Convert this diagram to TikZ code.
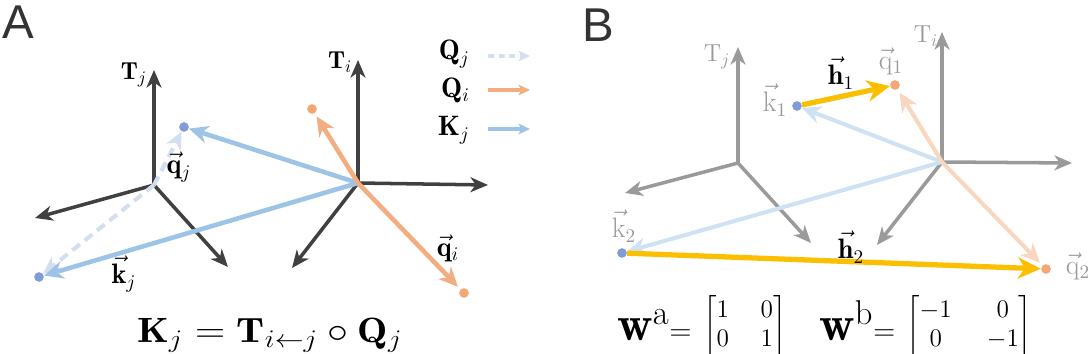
\documentclass[tikz,border=0pt]{standalone}
\usepackage{amsmath}
\usepackage{fontspec}
\newfontfamily\panelfont{Liberation Sans}
\usetikzlibrary{arrows.meta}
\definecolor{axisdark}{HTML}{404040}
\definecolor{axislight}{HTML}{9A9A9A}
\definecolor{kblue}{HTML}{9DC3E6}
\definecolor{kbluelight}{HTML}{CFE2F3}
\definecolor{qdashblue}{HTML}{D3DFF0}
\definecolor{qorange}{HTML}{F2AD80}
\definecolor{qorangelight}{HTML}{F8D6C0}
\definecolor{hyellow}{HTML}{FBBF00}
\definecolor{dotblue}{HTML}{809CD8}
\definecolor{dotorange}{HTML}{F4A676}
\definecolor{labelgray}{HTML}{999999}

\begin{document}
\begin{tikzpicture}[x=0.02cm, y=-0.02cm,
    axis/.style={draw=axisdark, line width=2pt, -{Stealth[length=10pt,width=8.5pt,inset=3pt]}},
    axisB/.style={axis, draw=axislight, fill=axislight},
    kvec/.style={draw=kblue, line width=2.6pt, -{Stealth[length=11pt,width=10pt,inset=3.5pt]}},
    kvecB/.style={kvec, draw=kbluelight, line width=2.3pt},
    qvec/.style={draw=qorange, line width=2.6pt, shorten >=2pt, -{Stealth[length=11pt,width=10pt,inset=3.5pt]}},
    qvecB/.style={qvec, draw=qorangelight, line width=2.3pt},
    qdash/.style={draw=qdashblue, line width=2.3pt, dash pattern=on 5.5pt off 3.5pt, -{Stealth[length=10pt,width=9pt,inset=3pt]}},
    hvec/.style={draw=hyellow, line width=3pt, -{Stealth[length=13pt,width=12pt,inset=4pt]}},
    legend/.style={line width=1.8pt, -{Stealth[length=6.5pt,width=6pt,inset=1.5pt]}},
    kdot/.style={circle, fill=dotblue, inner sep=0pt, minimum size=5.5pt},
    qdot/.style={circle, fill=dotorange, inner sep=0pt, minimum size=5.5pt},
    vlabel/.style={font=\fontsize{16}{18}\selectfont},
    tlabel/.style={font=\fontsize{14}{16}\selectfont},
    panel/.style={font=\panelfont\fontsize{27}{29}\selectfont, text=black!80}]
  \useasboundingbox (0,0) rectangle (1091,354);

  % panel A
  \node[panel] (panA) at (18,22) {A};
  \coordinate (oj) at (154,185);
  \coordinate (ojz) at (154,70);
  \coordinate (ojx) at (35,218);
  \coordinate (ojy) at (228,267);
  \coordinate (oi) at (358,183);
  \coordinate (oiz) at (358,60);
  \coordinate (oix) at (488,185);
  \coordinate (oiy) at (292,268);
  \draw[axis] (oj) -- (ojz);
  \draw[axis] (oj) -- (ojx);
  \draw[axis] (oj) -- (ojy);
  \draw[axis] (oi) -- (oiz);
  \draw[axis] (oi) -- (oix);
  \draw[axis] (oi) -- (oiy);
  \node[tlabel] (tj) at (134,75) {$\mathbf{T}_j$};
  \node[tlabel] (ti) at (340,62) {$\mathbf{T}_i$};
  \node[kdot] (kup) at (184,127) {};
  \node[kdot] (klo) at (39,277) {};
  \node[qdot] (qup) at (312,109) {};
  \node[qdot] (qlo) at (464,293) {};
  \draw[qdash] (oj) -- (kup);
  \draw[qdash] (oj) -- (klo);
  \draw[kvec] (oi) -- (kup);
  \draw[kvec] (oi) -- (klo);
  \draw[qvec] (oi) -- (qup);
  \draw[qvec] (oi) -- (qlo);
  \node[vlabel] (lqj) at (179,167) {$\vec{\mathbf{q}}_j$};
  \node[vlabel] (lkj) at (124,274) {$\vec{\mathbf{k}}_j$};
  \node[vlabel] (lqi) at (448,248) {$\vec{\mathbf{q}}_i$};
  % legend
  \node[vlabel, anchor=east] (legQj) at (476,54) {$\mathbf{Q}_j$};
  \node[vlabel, anchor=east] (legQi) at (476,90) {$\mathbf{Q}_i$};
  \node[vlabel, anchor=east] (legKj) at (476,130) {$\mathbf{K}_j$};
  \coordinate (lgQjs) at (488,56);  \coordinate (lgQje) at (530,56);
  \coordinate (lgQis) at (488,90);  \coordinate (lgQie) at (530,90);
  \coordinate (lgKjs) at (488,129); \coordinate (lgKje) at (530,129);
  \draw[legend, draw=qdashblue, dash pattern=on 3.5pt off 2.5pt] (lgQjs) -- (lgQje);
  \draw[legend, draw=qorange] (lgQis) -- (lgQie);
  \draw[legend, draw=kblue] (lgKjs) -- (lgKje);
  \node[anchor=base west, inner sep=0pt, font=\fontsize{20}{22}\selectfont] (eqA) at (137,342)
    {\scalebox{1.15}[1]{$\mathbf{K}_j = \mathbf{T}_{i\leftarrow j}\circ\mathbf{Q}_j$}};

  % panel B
  \node[panel] (panB) at (598,25) {B};
  \coordinate (pj) at (738,163);
  \coordinate (pjz) at (738,47);
  \coordinate (pjx) at (625,193);
  \coordinate (pjy) at (811,243);
  \coordinate (pi) at (942,162);
  \coordinate (piz) at (942,32);
  \coordinate (pix) at (1072,163);
  \coordinate (piy) at (877,245);
  \draw[axisB] (pj) -- (pjz);
  \draw[axisB] (pj) -- (pjx);
  \draw[axisB] (pj) -- (pjy);
  \draw[axisB] (pi) -- (piz);
  \draw[axisB] (pi) -- (pix);
  \draw[axisB] (pi) -- (piy);
  \node[tlabel, text=axislight] (tj2) at (717,57) {$\mathrm{T}_j$};
  \node[tlabel, text=axislight] (ti2) at (926,36) {$\mathrm{T}_i$};
  \node[kdot] (k1) at (797,106) {};
  \node[kdot] (k2) at (622,253) {};
  \node[qdot] (q1) at (895,85) {};
  \node[qdot] (q2) at (1046,269) {};
  \draw[kvecB] (pi) -- (k1);
  \draw[kvecB] (pi) -- (k2);
  \draw[qvecB] (pi) -- (q1);
  \draw[qvecB] (pi) -- (q2);
  \draw[hvec] (k1) -- (q1);
  \draw[hvec] (k2) -- (q2);
  \node[vlabel, text=labelgray] (lk1) at (775,100) {$\vec{\mathrm{k}}_1$};
  \node[vlabel, text=labelgray] (lq1) at (891,61) {$\vec{\mathrm{q}}_1$};
  \node[vlabel, text=labelgray] (lk2) at (624,226) {$\vec{\mathrm{k}}_2$};
  \node[vlabel, text=labelgray] (lq2) at (1078,266) {$\vec{\mathrm{q}}_2$};
  \node[vlabel] (lh1) at (841,73) {$\vec{\mathbf{h}}_1$};
  \node[vlabel] (lh2) at (851,247) {$\vec{\mathbf{h}}_2$};
  % weight matrices
  \node[anchor=base west, inner sep=0pt] (wa) at (617,340)
    {{\fontsize{28}{30}\selectfont$\mathbf{w}^{\mathrm{a}}$}{\fontsize{19}{21}\selectfont$=$}};
  \node[anchor=west, inner sep=0pt, font=\fontsize{14}{17}\selectfont] (ma) at (703,326)
    {\setlength{\arraycolsep}{9pt}$\begin{bmatrix}1&0\\0&1\end{bmatrix}$};
  \node[anchor=base west, inner sep=0pt] (wb) at (819,340)
    {{\fontsize{28}{30}\selectfont$\mathbf{w}^{\mathrm{b}}$}{\fontsize{19}{21}\selectfont$=$}};
  \node[anchor=west, inner sep=0pt, font=\fontsize{14}{17}\selectfont] (mb) at (906,326)
    {\setlength{\arraycolsep}{10pt}$\begin{bmatrix}-1&0\\0&-1\end{bmatrix}$};
\end{tikzpicture}
\end{document}
